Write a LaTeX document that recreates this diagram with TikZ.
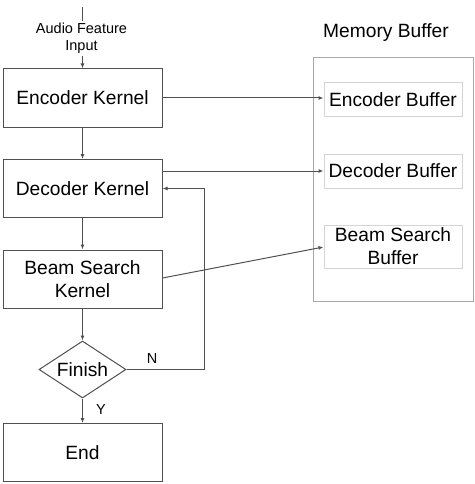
\documentclass[tikz,border=0pt]{standalone}
\usepackage{fontspec}
\setmainfont{Liberation Sans}
\usetikzlibrary{shapes.geometric,arrows.meta}
\definecolor{boxline}{HTML}{505050}
\definecolor{memline}{HTML}{A8A8A8}
\definecolor{bufline}{HTML}{D4D4D4}
\tikzset{
  kbox/.style={draw=boxline, line width=1pt, minimum width=159pt, minimum height=58pt, inner sep=0pt, align=center, font=\fontsize{19.2}{23}\selectfont},
  bbox/.style={draw=bufline, line width=1pt, minimum width=138pt, minimum height=34pt, inner sep=0pt, align=center, font=\fontsize{19.2}{23}\selectfont},
  conn/.style={draw=boxline, line width=1pt, -{Latex[length=5pt,width=4pt]}},
  small/.style={font=\fontsize{14.5}{16.5}\selectfont, inner sep=0pt, align=center}
}
\begin{document}
\begin{tikzpicture}[x=1pt,y=-1pt]
\useasboundingbox (0,0) rectangle (474,484);
% left column
\node[kbox] (enc) at (82.5,98) {Encoder Kernel};
\node[kbox] (dec) at (82.5,188.5) {Decoder Kernel};
\node[kbox] (beam) at (82.5,279) {Beam Search\\Kernel};
\node[draw=boxline, line width=1pt, diamond, aspect=1.53, minimum width=87pt, minimum height=57pt, inner sep=0pt, font=\fontsize{19.2}{23}\selectfont] (fin) at (82.5,369.5) {Finish};
\node[kbox] (end) at (82.5,452.5) {End};
% input
\coordinate (top) at (82.5,7);
\draw[conn] (top) -- (enc.north);
\node[small, fill=white, inner ysep=2pt] (inp) at (81.5,38.5) {Audio Feature\\Input};
\draw[conn] (enc) -- (dec);
\draw[conn] (dec) -- (beam);
\draw[conn] (beam) -- (fin);
\draw[conn] (fin) -- (end) node[pos=0.45, right=13pt, small] (y) {Y};
\coordinate (ncorner) at (204,369.5);
\draw[conn] (fin.east) -- (ncorner) |- (dec.east);
\node[small] (n) at (152,358.5) {N};
% memory buffer
\node[draw=memline, line width=1pt, minimum width=160pt, minimum height=243pt, inner sep=0pt] (mem) at (393,179.5) {};
\node[inner sep=0pt, font=\fontsize{19.2}{23}\selectfont] (memlbl) at (386,33) {Memory Buffer};
\node[bbox] (ebuf) at (393,100) {Encoder Buffer};
\node[bbox] (dbuf) at (393,171) {Decoder Buffer};
\node[bbox, minimum height=43pt] (bbuf) at (393,246.5) {Beam Search\\Buffer};
\draw[conn] (enc.east |- 0,98) -- (ebuf.west |- 0,98);
\draw[conn] (dec.east |- 0,171) -- (dbuf.west |- 0,171);
\draw[conn] (beam.east |- 0,278) -- (bbuf.west |- 0,247);
\end{tikzpicture}
\end{document}
